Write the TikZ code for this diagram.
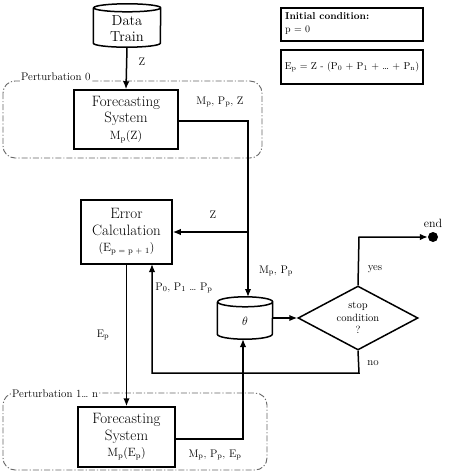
\documentclass[tikz,border=0pt]{standalone}
\usetikzlibrary{shapes.geometric,arrows.meta}
\begin{document}
\begin{tikzpicture}[x=1pt,y=-1pt,
  ln/.style={line width=1.5pt},
  arr/.style={ln,-{Latex[length=8pt,width=6.5pt]}},
  boxx/.style={draw,line width=1.5pt,align=center,inner sep=0pt,font=\fontsize{15}{16.5}\selectfont},
  cylbox/.style={align=center,inner sep=0pt},
  pert/.style={draw=black!60,line width=0.9pt,rounded corners=12pt,dash pattern=on 6pt off 2pt on 1.2pt off 2pt},
  lbl/.style={font=\fontsize{11}{12}\selectfont,inner sep=1pt}
]
\useasboundingbox (0,0) rectangle (474,474);
% perturbation frames
\draw[pert] (3,81) rectangle (262,158);
\draw[pert] (3,393) rectangle (267,470);
\node[lbl,fill=white,anchor=west] (p0) at (20,77) {Perturbation 0};
\node[lbl,fill=white,anchor=west] (p1) at (11,394) {Perturbation 1\ldots\ n};
% nodes
\node[cylbox,minimum width=67pt,minimum height=43pt] (dt) at (127,25.5) {};
\node[cylbox,font=\fontsize{14.5}{16.5}\selectfont] (dtt) at (127,28.5) {Data\\Train};
\draw[ln] ([yshift=-4pt]dt.north west) -- ([yshift=4pt]dt.south west)
   arc[start angle=180,end angle=360,x radius=33.5pt,y radius=4pt]
   -- ([yshift=-4pt]dt.north east)
   arc[start angle=0,end angle=360,x radius=33.5pt,y radius=4pt];
\node[boxx,minimum width=104pt,minimum height=59pt] (fs1) at (126,119.5) {Forecasting\\System\\{\fontsize{12}{12}\selectfont M\textsubscript{p}(Z)}};
\node[boxx,minimum width=91pt,minimum height=64pt] (ec) at (126.5,232) {Error\\Calculation\\{\fontsize{12}{12}\selectfont (E\textsubscript{p = p + 1})}};
\node[cylbox,minimum width=55pt,minimum height=42pt] (th) at (245,318) {};
\node[cylbox,font=\fontsize{12}{13}\selectfont] (tht) at (245,321) {$\theta$};
\draw[ln] ([yshift=-5pt]th.north west) -- ([yshift=5pt]th.south west)
   arc[start angle=180,end angle=360,x radius=27.5pt,y radius=5pt]
   -- ([yshift=-5pt]th.north east)
   arc[start angle=0,end angle=360,x radius=27.5pt,y radius=5pt];
\node[draw,line width=1.5pt,diamond,aspect=1.875,minimum width=120pt,minimum height=64pt,inner sep=0pt,align=center,font=\fontsize{10.5}{12.5}\selectfont] (dia) at (358,318) {stop\\condition\\?};
\node[circle,fill=black,minimum size=10pt,inner sep=0pt] (end) at (433,237) {};
\node[lbl,font=\fontsize{12}{13}\selectfont] (endl) at (433,223) {end};
\node[boxx,minimum width=97pt,minimum height=60pt] (fs2) at (126.5,437) {Forecasting\\System\\{\fontsize{12}{12}\selectfont M\textsubscript{p}(E\textsubscript{p})}};
% info boxes
\node[draw,line width=1.5pt,minimum width=142pt,minimum height=33pt,inner sep=0pt] (ic) at (352,24.5) {};
\node[anchor=north west,align=left,inner sep=0pt,font=\fontsize{10}{13}\selectfont] (ict) at (285,12) {\textbf{Initial condition:}\\p = 0};
\node[draw,line width=1.5pt,minimum width=142pt,minimum height=34pt,inner sep=0pt,font=\fontsize{10}{12}\selectfont] (eq) at (352,67) {E\textsubscript{p} = Z - (P\textsubscript{0} + P\textsubscript{1} + \ldots\ + P\textsubscript{n})};
% junction coordinates
\coordinate (a1) at (248,121);
\coordinate (jz) at (248,232);
\coordinate (thtop) at (248,297);
\coordinate (y1) at (359,237);
\coordinate (n1) at (359,373);
\coordinate (n2) at (152,373);
\coordinate (n3) at (152,264);
\coordinate (b1) at (243,439);
\coordinate (thbot) at (243,339);
% connectors
\draw[arr] (dt.south) -- (fs1.north);
\draw[ln] (fs1.east |- a1) -- (a1) -- (jz);
\draw[arr] (jz) -- (thtop);
\draw[arr] (jz) -- (ec.east |- jz);
\draw[arr] (th.east) -- (dia.west);
\draw[arr] (dia.north) -- (y1) -- (end.west);
\draw[arr] (dia.south) -- (n1) -- (n2) -- (n3);
\draw[arr] (ec.south) -- (fs2.north);
\draw[arr] (fs2.east |- b1) -- (b1) -- (thbot);
% labels
\node[lbl] (lz1) at (142,62) {Z};
\node[lbl] (l1) at (220,102) {M\textsubscript{p}, P\textsubscript{p}, Z};
\node[lbl] (lz2) at (213,215) {Z};
\node[lbl] (l2) at (276,271) {M\textsubscript{p}, P\textsubscript{p}};
\node[lbl] (l3) at (184,288) {P\textsubscript{0}, P\textsubscript{1} \ldots\ P\textsubscript{p}};
\node[lbl] (l4) at (103,335) {E\textsubscript{p}};
\node[lbl] (ly) at (375,269) {yes};
\node[lbl] (lno) at (373,363) {no};
\node[lbl] (l5) at (215,455) {M\textsubscript{p}, P\textsubscript{p}, E\textsubscript{p}};
\end{tikzpicture}
\end{document}
